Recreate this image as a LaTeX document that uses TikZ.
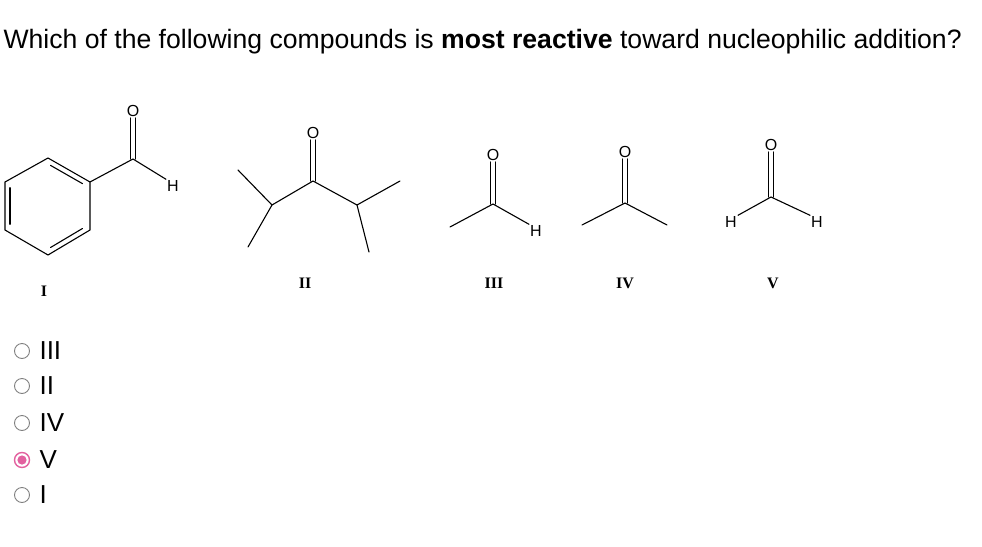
\documentclass[tikz,border=0pt]{standalone}
\usepackage{fontspec}
\setmainfont{Liberation Sans}
\newfontfamily\serf{Liberation Serif}
\usetikzlibrary{calc}
\definecolor{pinkc}{HTML}{E2619F}
\begin{document}
\begin{tikzpicture}[x=1pt,y=-1pt,
  bond/.style={line width=1.1pt,line cap=round},
  atom/.style={font=\fontsize{16}{16}\selectfont, inner sep=1pt},
  lab/.style={font=\serf\bfseries\fontsize{16}{16}\selectfont},
  opt/.style={font=\fontsize{26}{26}\selectfont, anchor=west},
  radio/.style={circle, draw=gray, line width=0.9pt, minimum size=15pt, inner sep=0pt}]
\useasboundingbox (0,0) rectangle (982,546);
\node[anchor=west,font=\fontsize{26.6}{27}\selectfont] (title) at (0,42) {Which of the following compounds is \textbf{most reactive} toward nucleophilic addition?};
% I benzaldehyde
\coordinate (a1) at (48,158); \coordinate (a2) at (90,182); \coordinate (a3) at (90,230);
\coordinate (a4) at (48,255); \coordinate (a5) at (5,230); \coordinate (a6) at (5,182);
\draw[bond] (a1)--(a2)--(a3)--(a4)--(a5)--(a6)--cycle;
\draw[bond] ($(a1)!0.12!(a2)+(-2.5,4.5)$) -- ($(a1)!0.88!(a2)+(-2.5,4.5)$);
\draw[bond] ($(a5)!0.12!(a6)+(5,0)$) -- ($(a5)!0.88!(a6)+(5,0)$);
\draw[bond] ($(a3)!0.12!(a4)+(-2.5,-4.5)$) -- ($(a3)!0.88!(a4)+(-2.5,-4.5)$);
\node[atom] (o1) at (133,111) {O};
\node[atom] (h1) at (173,186) {H};
\coordinate (c1) at (133,159);
\draw[bond] (a2)--(c1)--(h1.north west);
\draw[bond] ([xshift=-2.2]c1) -- ([xshift=-2.2]o1.south);
\draw[bond] ([xshift=2.2]c1) -- ([xshift=2.2]o1.south);
\node[lab] (l1) at (44,291) {I};
% II
\coordinate (c2) at (313,181); \node[atom] (o2) at (313,133) {O};
\coordinate (b1) at (272,205); \coordinate (b2) at (357,205);
\draw[bond] (238,170)--(b1)--(c2)--(b2)--(400,181);
\draw[bond] (b1)--(248,247); \draw[bond] (b2)--(369,252);
\draw[bond] ([xshift=-2.2]c2) -- ([xshift=-2.2]o2.south);
\draw[bond] ([xshift=2.2]c2) -- ([xshift=2.2]o2.south);
\node[lab] (l2) at (305,283) {II};
% III
\coordinate (c3) at (493,204); \node[atom] (o3) at (493,155) {O};
\node[atom] (h3) at (536,231) {H};
\draw[bond] (450,227)--(c3)--(h3.north west);
\draw[bond] ([xshift=-2.2]c3) -- ([xshift=-2.2]o3.south);
\draw[bond] ([xshift=2.2]c3) -- ([xshift=2.2]o3.south);
\node[lab] (l3) at (494,283) {III};
% IV
\coordinate (c4) at (625,203); \node[atom] (o4) at (625,152) {O};
\draw[bond] (582,225)--(c4)--(667,225);
\draw[bond] ([xshift=-2.2]c4) -- ([xshift=-2.2]o4.south);
\draw[bond] ([xshift=2.2]c4) -- ([xshift=2.2]o4.south);
\node[lab] (l4) at (625,283) {IV};
% V
\coordinate (c5) at (771,197); \node[atom] (o5) at (771,145) {O};
\node[atom] (h5a) at (731,222) {H}; \node[atom] (h5b) at (817,222) {H};
\draw[bond] (h5a.north east)--(c5)--(h5b.north west);
\draw[bond] ([xshift=-2.2]c5) -- ([xshift=-2.2]o5.south);
\draw[bond] ([xshift=2.2]c5) -- ([xshift=2.2]o5.south);
\node[lab] (l5) at (773,283) {V};
% options
\foreach \y/\t/\n in {351/III/r1,386/II/r2,423/IV/r3,495/I/r5}{
  \node[radio] (\n) at (22,\y) {};
  \node[opt] (\n t) at (36,\y) {\t};
}
\node[radio, draw=pinkc, line width=1.4pt] (r4) at (22,460) {};
\fill[pinkc] (r4) circle (4.6pt);
\node[opt] (r4t) at (36,460) {V};
\end{tikzpicture}
\end{document}
